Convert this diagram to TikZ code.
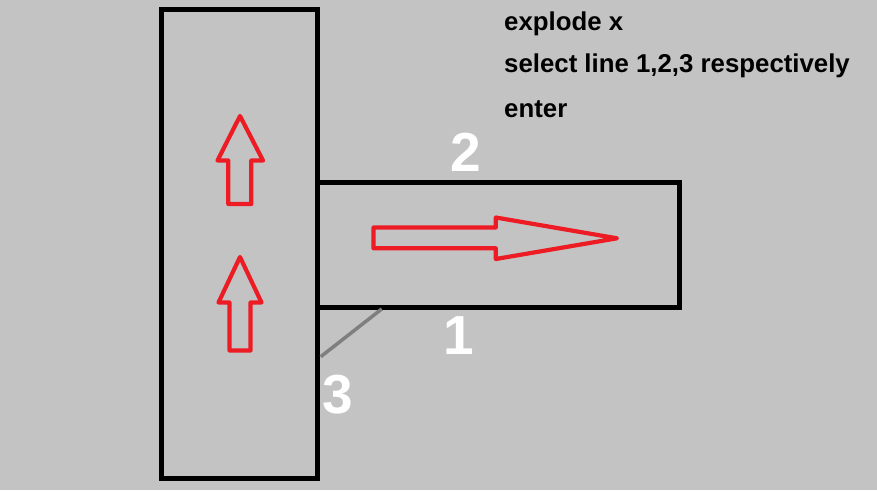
\documentclass[tikz,border=0pt]{standalone}
\usepackage{fontspec}
\setmainfont{Liberation Sans}
\definecolor{paintred}{HTML}{ED1C24}
\definecolor{paintgrey}{HTML}{7F7F7F}
\definecolor{canvas}{HTML}{C3C3C3}
\tikzset{
  block/.style={draw=black, line width=4.5pt},
  flow/.style={draw=paintred, line width=4.2pt, line join=round},
  num/.style={text=white, font=\fontsize{55}{55}\selectfont\bfseries, inner sep=0pt},
  note/.style={font=\fontsize{25.8}{25.8}\selectfont\bfseries, anchor=base west, inner sep=0pt},
}
\begin{document}
\begin{tikzpicture}[x=1pt,y=-1pt]
        \fill[canvas] (0,0) rectangle (877,490);
        \useasboundingbox (0,0) rectangle (877,490);

        % the two members
        \draw[block] (161.5,9.7) rectangle (317.5,478.5);
        \draw[block] (317.5,182.5) rectangle (679.5,307.5);

        % direction arrows
        \draw[flow] (240,116) -- (263,160.5) -- (251.3,160.5) -- (251.3,204) -- (228.3,204) -- (228.3,160.5) -- (217.5,160.5) -- cycle;
        \draw[flow] (240,257) -- (261.5,302.5) -- (250.5,302.5) -- (250.5,350.5) -- (229.5,350.5) -- (229.5,302.5) -- (218.5,302.5) -- cycle;
        \draw[flow] (617,238.3) -- (495.8,259) -- (495.8,248.3) -- (373.5,248.3) -- (373.5,227.5) -- (495.8,227.5) -- (495.8,217.5) -- cycle;

        % line 3
        \coordinate (lowend) at (320.7,356.7);
        \coordinate (highend) at (381.7,309);
        \draw[paintgrey, line width=3.5pt] (lowend) -- (highend);

        \node[num] (labone) at (458.5,336) {1};
        \node[num] (labtwo) at (466,152.7) {2};
        \node[num] (labthree) at (337.5,395) {3};

        \node[note] (stepexplode) at (504,30) {explode x};
        \node[note] (stepselect) at (504,72) {select line 1,2,3 respectively};
        \node[note] (stepenter) at (504,117) {enter};
\end{tikzpicture}
\end{document}
